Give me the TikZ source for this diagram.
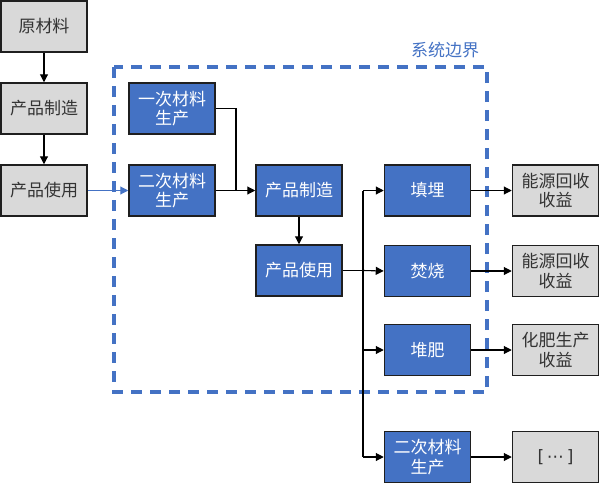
\documentclass[tikz,border=0pt]{standalone}
\usepackage{fontspec}
\setmainfont{Noto Sans CJK SC}
\newfontfamily\dvfont{DejaVu Sans}
\usetikzlibrary{arrows.meta}
\definecolor{bfill}{HTML}{4472C4}
\definecolor{gfill}{HTML}{D9D9D9}
\definecolor{edge}{HTML}{1F1F1F}
\begin{document}
\begin{tikzpicture}[x=1pt,y=-1pt,
  base/.style={draw=edge,line width=1.5pt,minimum width=86pt,minimum height=51pt,inner sep=0pt,align=center,font=\fontsize{17}{19.5}\selectfont},
  gbox/.style={base,fill=gfill,text=black!80},
  bbox/.style={base,fill=bfill,text=white},
  arr/.style={-{Triangle[length=8pt,width=8pt]},line width=1.1pt,draw=black},
  ln/.style={line width=1.1pt,draw=black}]
\useasboundingbox (0,0) rectangle (600,488);
% boundary
\draw[bfill,line width=3.2pt,dash pattern=on 11pt off 8pt] (114,67) rectangle (487,392);
\node[text=bfill,font=\fontsize{17}{19.5}\selectfont] (lab) at (445,50) {系统边界};
% left column
\node[gbox] (raw) at (44,26.5) {原材料};
\node[gbox] (mfg0) at (44,108.5) {产品制造};
\node[gbox] (use0) at (44,190.5) {产品使用};
% blue
\node[bbox] (p1) at (172,108.5) {一次材料\\生产};
\node[bbox] (p2) at (172,190.5) {二次材料\\生产};
\node[bbox] (pm) at (299,190.5) {产品制造};
\node[bbox] (pu) at (299,270.5) {产品使用};
\node[bbox] (lf) at (427.5,190.5) {填埋};
\node[bbox] (inc) at (427.5,271) {焚烧};
\node[bbox] (cmp) at (427.5,350) {堆肥};
\node[bbox] (p2b) at (427.5,457) {二次材料\\生产};
% right gray
\node[gbox] (r1) at (555.5,190.5) {能源回收\\收益};
\node[gbox] (r2) at (555.5,271) {能源回收\\收益};
\node[gbox] (r3) at (555.5,350) {化肥生产\\收益};
\node[gbox] (r4) at (555.5,457) {{\dvfont [\,⋯\,]}};
% connectors
\draw[arr] (raw) -- (mfg0);
\draw[arr] (mfg0) -- (use0);
\draw[-{Triangle[length=8pt,width=8pt]},line width=1.1pt,draw=bfill] (use0) -- (p2);
\coordinate (j) at (236,190.5);
\draw[ln] (p1.east) -| (j);
\draw[arr] (p2) -- (pm);
\draw[arr] (pm) -- (pu);
\coordinate (s0) at (363,270.5);
\coordinate (s1) at (363,190.5);
\coordinate (s4) at (363,457);
\draw[ln] (pu.east) -- (s0);
\draw[ln] (s1) -- (s4);
\draw[arr] (s1) -- (lf);
\draw[arr] (s0) -- (inc.west);
\draw[arr] (363,350) -- (cmp);
\draw[arr] (s4) -- (p2b);
\draw[arr] (lf) -- (r1);
\draw[arr] (inc) -- (r2);
\draw[arr] (cmp) -- (r3);
\draw[arr] (p2b) -- (r4);
\end{tikzpicture}
\end{document}
